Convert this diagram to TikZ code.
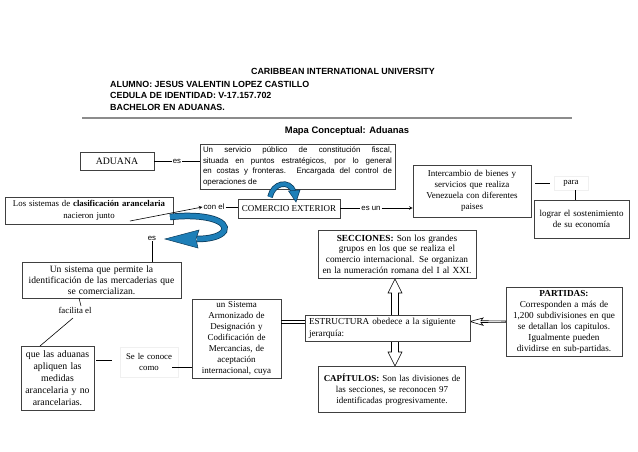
\documentclass[tikz,border=0pt]{standalone}
\usepackage{fontspec}
\setmainfont{Liberation Serif}
\newfontfamily\arial{Liberation Sans}
\definecolor{rib}{HTML}{1E7FB8}
\definecolor{ribdk}{HTML}{0B3A5A}
\begin{document}
\begin{tikzpicture}[x=1pt,y=-1pt,
  bx/.style={draw=black!75, line width=0.7pt, fill=white, align=center, inner sep=2pt, font=\fontsize{9}{11}\selectfont},
  fbx/.style={draw=black!6, line width=0.5pt, fill=white, align=center, inner sep=2pt, font=\fontsize{8.8}{11}\selectfont},
  lbl/.style={font=\arial\fontsize{7.8}{9}\selectfont, inner sep=1pt},
  hdr/.style={font=\arial\bfseries\fontsize{8.9}{10}\selectfont, inner sep=0pt, anchor=west},
  ln/.style={draw=black, line width=0.6pt},
  hollow/.style={draw=black, line width=0.6pt, fill=white}
]
\useasboundingbox (0,0) rectangle (638,451);

% header
\node[hdr, anchor=center] (title) at (343,71) {CARIBBEAN INTERNATIONAL UNIVERSITY};
\node[hdr] (alumno) at (110,84) {ALUMNO: JESUS VALENTIN LOPEZ CASTILLO};
\node[hdr] (cedula) at (110,95.5) {CEDULA DE IDENTIDAD: V-17.157.702};
\node[hdr] (bach) at (110,107) {BACHELOR EN ADUANAS.};
\coordinate (hl1) at (82,118);
\coordinate (hl2) at (572,118);
\draw[black!45, line width=1.2pt] (hl1) -- (hl2);
\node[hdr, anchor=center, font=\arial\bfseries\fontsize{9.4}{10}\selectfont] (mapa) at (347,131) {Mapa Conceptual: Aduanas};

% hollow vertical double arrow (behind ESTRUCTURA)
\draw[hollow] (395,279) -- (388,293) -- (391.5,293) -- (391.5,352) -- (388,352) -- (395,366)
  -- (402,352) -- (398.5,352) -- (398.5,293) -- (402,293) -- cycle;
% hollow horizontal arrow towards ESTRUCTURA
\draw[hollow] (470,321.5) -- (483,318) -- (481,320.7) -- (506,321) -- (506,322.3)
  -- (481,322.5) -- (483,325.3) -- cycle;

% boxes
\node[bx, minimum width=74pt, minimum height=18pt, font=\fontsize{9.8}{11}\selectfont] (aduana) at (117,161) {ADUANA};
\node[bx, text width=189pt, minimum height=44pt, align=justify, font=\arial\fontsize{7.9}{10.6}\selectfont, inner sep=3pt] (servicio) at (297.5,166.5)
  {Un servicio público de constitución fiscal,\linebreak situada en puntos estratégicos, por lo general\linebreak en costas y fronteras. Encargada del control de\linebreak operaciones de};
\node[bx, text width=164pt, minimum height=27pt, font=\fontsize{8.8}{11.5}\selectfont] (clasif) at (89,210.5)
  {Los sistemas de \textbf{clasificación arancelaria}\\ nacieron junto};
\node[bx, minimum width=102pt, minimum height=19pt, font=\fontsize{9}{10.5}\selectfont] (comercio) at (289,208.5) {COMERCIO EXTERIOR};
\node[bx, text width=114pt, minimum height=52pt, font=\fontsize{9}{10.9}\selectfont] (intercambio) at (472,191)
  {Intercambio de bienes y\\ servicios que realiza\\ Venezuela con diferentes\\ paises};
\node[fbx, minimum width=34pt, minimum height=14pt] (para) at (571,183) {para};
\node[bx, text width=91pt, minimum height=38pt] (lograr) at (581.5,219)
  {lograr el sostenimiento\\ de su economía\\[1pt]};
\node[bx, text width=155pt, minimum height=36pt, font=\fontsize{9.6}{11}\selectfont] (sistema) at (101.5,280)
  {Un sistema que permite la\\ identificación de las mercaderias que\\ se comercializan.};
\node[bx, text width=69pt, minimum height=64pt, font=\fontsize{9.8}{12}\selectfont] (aplican) at (57.5,378)
  {que las aduanas\\ apliquen las\\ medidas\\ arancelaria y no\\ arancelarias.};
\node[fbx, text width=54pt, minimum height=30pt] (conoce) at (149,362) {Se le conoce\\ como};
\node[bx, text width=85pt, minimum height=79pt, inner ysep=1pt, font=\fontsize{9}{11}\selectfont] (armonizado) at (236.5,338.5)
  {un Sistema\\ Armonizado de\\ Designación y\\ Codificación de\\ Mercancias, de\\ aceptación\\ internacional, cuya};
\node[bx, text width=157pt, inner xsep=4pt, minimum height=26pt, align=left, font=\fontsize{9.2}{12}\selectfont] (estructura) at (387.5,328.5)
  {ESTRUCTURA obedece a la siguiente\\ jerarquía:};
\node[bx, text width=154pt, minimum height=48pt, font=\fontsize{9.3}{10.7}\selectfont] (secciones) at (397,254)
  {\textbf{SECCIONES:} Son los grandes\\ grupos en los que se realiza el\\ comercio internacional. Se organizan\\ en la numeración romana del I al XXI.};
\node[bx, text width=143pt, minimum height=46pt, anchor=north, font=\fontsize{9}{11}\selectfont] (capitulos) at (392,366)
  {\textbf{CAPÍTULOS:} Son las divisiones de\\ las secciones, se reconocen 97\\ identificadas progresivamente.\\[8pt]};
\node[bx, text width=112pt, minimum height=69pt, font=\fontsize{9.2}{11}\selectfont] (partidas) at (564,321.5)
  {\textbf{PARTIDAS:}\\ Corresponden a más de\\ 1,200 subdivisiones en que\\ se detallan los capitulos.\\ Igualmente pueden\\ dividirse en sub-partidas.};

% labels
\node[lbl] (es1) at (177,161) {es};
\node[lbl] (conel) at (214,207) {con el};
\node[lbl] (esun) at (371,208) {es un};
\node[lbl] (es2) at (152,238) {es};
\node[font=\fontsize{8.8}{10}\selectfont, inner sep=1pt] (facilita) at (75,310) {facilita el};

% connectors
\draw[ln] (aduana.east) -- (es1.west);
\draw[ln] (es1.east) -- (servicio.west |- es1.east);
\draw[ln] (conel.east) -- (comercio.west |- conel.east);
\draw[ln] (comercio.east |- esun.west) -- (esun.west);
\draw[ln, -stealth] (esun.east) -- (intercambio.west |- esun.east);
\coordinate (pl) at (535,183);
\draw[ln] (pl) -- ++(15,0);
\draw[ln] (para.south -| lograr.north) ++(-6,0) coordinate (pv) -- (pv |- lograr.north);
\draw[ln] (es2.south) -- (es2.south |- sistema.north);
\coordinate (st) at (79,298);
\coordinate (sb) at (81,306);
\draw[ln] (st) -- (sb);
\coordinate (fl) at (73,318);
\draw[ln] (fl) -- (40,346);
\draw[ln] (aplican.east |- 0,360) ++(2,0) coordinate (a1) -- ++(16,0);
\draw[ln] (conoce.east |- 0,367) ++(-6,0) coordinate (c1) -- (armonizado.west |- c1);
\draw[line width=0.5pt] (armonizado.east |- 0,320.7) -- (estructura.west |- 0,320.7);
\draw[line width=0.5pt] (armonizado.east |- 0,323) -- (estructura.west |- 0,323);

% blue curved arrows
\draw[ribdk, line width=5.5pt] (270,197) .. controls (273,183) and (289,179) .. (294,192);
\draw[rib, line width=4pt] (270,197) .. controls (273,183) and (289,179) .. (294,192);
\filldraw[fill=rib, draw=ribdk, line width=0.5pt] (288.5,191) -- (296,202) -- (300,190) -- cycle;

\draw[ribdk, line width=6.5pt] (170,217) .. controls (205,213) and (229,221) .. (224,231) .. controls (220,237) and (208,239) .. (197,239);
\draw[rib, line width=5pt] (170,217) .. controls (205,213) and (229,221) .. (224,231) .. controls (220,237) and (208,239) .. (197,239);
\filldraw[fill=rib, draw=ribdk, line width=0.5pt] (199,230) -- (165,239) -- (198,248) -- (196,239) -- cycle;

% arrow nacieron junto -> con el
\coordinate (nj) at (130,221);
\draw[ln, -stealth] (nj) -- (conel.west);
\end{tikzpicture}
\end{document}
